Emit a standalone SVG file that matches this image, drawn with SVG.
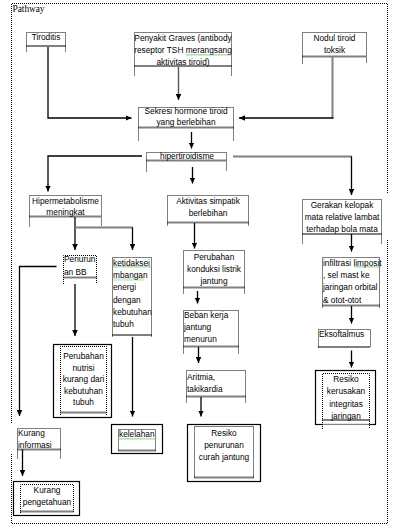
<svg xmlns="http://www.w3.org/2000/svg" width="402" height="528" viewBox="0 0 402 528">
<style>
.t{font-family:"Liberation Sans",Arial,sans-serif;font-size:8.3px;fill:#000}
.c{text-anchor:middle}
.pw{font-family:"Liberation Serif","Times New Roman",serif;font-size:9.3px;fill:#000}
.bf{fill:#fff;stroke:none}
.bd{fill:none;stroke:#000;stroke-width:1;stroke-dasharray:1 1}
.bt{fill:none;stroke:#000;stroke-width:2;stroke-dasharray:1 1}
.so{fill:#fff;stroke:#000;stroke-width:1.2}
.ln{fill:none;stroke:#000;stroke-width:1.3}
.gr{fill:none;stroke:#808080;stroke-width:2}
.dg{fill:none;stroke:#555;stroke-width:1.4}
.fr{fill:none;stroke:#000;stroke-width:1;stroke-dasharray:1 1}
</style>
<defs>
<marker id="ah" markerUnits="userSpaceOnUse" markerWidth="6" markerHeight="6" refX="6" refY="3" orient="auto">
<path d="M0,0.2 L6,3 L0,5.8 Z" fill="#000"/>
</marker>
<pattern id="sq" width="2" height="2" patternUnits="userSpaceOnUse">
<path d="M0,1.6 L1,0.4 L2,1.6" stroke="#22a022" stroke-width="0.6" fill="none"/>
</pattern>
</defs>
<rect width="402" height="528" fill="#fff"/>
<g id="frame">
<path class="fr" d="M11.5,423 V3.5 H387.5 V193 M387.5,240 V523.5 H11.5 V453"/>
<text class="pw" x="12.5" y="12">Pathway</text>
</g>
<g id="tiroditis">
<rect class="bf" x="26.5" y="32.5" width="39" height="19"/>
<path class="bd" d="M26.5,51.5 V32.5 H65.5 V51.5"/><path class="bt" d="M26.5,46 H65.5"/>
<text class="t c" x="46" y="40.3">Tiroditis</text>
</g>
<g id="graves">
<rect class="bf" x="134.5" y="32.5" width="97" height="43"/>
<path class="bd" d="M134.5,75.5 V32.5 H231.5 V75.5"/><path class="bt" d="M134.5,66 H231.5"/>
<text class="t c" x="183" y="41.3">Penyakit Graves (antibody</text>
<text class="t c" x="183" y="53">reseptor TSH merangsang</text>
<text class="t c" x="183" y="64.7">aktivitas tiroid)</text>
</g>
<g id="nodul">
<rect class="bf" x="302.5" y="32.5" width="64" height="31"/>
<path class="bd" d="M302.5,63.5 V32.5 H366.5 V63.5"/><path class="bt" d="M302.5,56.5 H366.5"/>
<text class="t c" x="334.5" y="41">Nodul tiroid</text>
<text class="t c" x="334.5" y="53.3">toksik</text>
</g>
<g id="sekresi">
<rect class="bf" x="138.5" y="107.5" width="95" height="33"/>
<path class="bd" d="M138.5,140.5 V107.5 H233.5 V140.5"/><path class="bt" d="M138.5,127.5 H233.5"/>
<text class="t c" x="186" y="113.7">Sekresi hormone tiroid</text>
<text class="t c" x="186" y="125.3">yang berlebihan</text>
</g>
<g id="hipertiroidisme">
<rect class="bf" x="146.5" y="152.5" width="80" height="19"/>
<path class="bd" d="M146.5,171.5 V152.5 H226.5 V171.5"/><path class="bt" d="M146.5,160.5 H226.5"/>
<text class="t c" x="187" y="159.3">hipertiroidisme</text>
</g>
<g id="hipermetabolisme">
<rect class="bf" x="29.5" y="195.5" width="72" height="31"/>
<path class="bd" d="M29.5,226.5 V195.5 H101.5 V226.5"/><path class="bt" d="M29.5,216.5 H101.5"/>
<text class="t c" x="65.5" y="203.5">Hipermetabolisme</text>
<text class="t c" x="65.5" y="215">meningkat</text>
</g>
<g id="aktivitas">
<rect class="bf" x="167.5" y="195.5" width="81" height="30"/>
<path class="bd" d="M167.5,225.5 V195.5 H248.5 V225.5"/><path class="bt" d="M167.5,222.5 H248.5"/>
<text class="t c" x="208" y="203.5">Aktivitas simpatik</text>
<text class="t c" x="208" y="215.5">berlebihan</text>
</g>
<g id="gerakan">
<rect class="bf" x="302.5" y="199.5" width="79" height="44"/>
<path class="bd" d="M302.5,243.5 V199.5 H381.5 V243.5"/><path class="bt" d="M302.5,234 H381.5"/>
<text class="t c" x="342" y="207.5">Gerakan kelopak</text>
<text class="t c" x="342" y="219.5">mata relative lambat</text>
<text class="t c" x="342" y="231.5">terhadap bola mata</text>
</g>
<g id="penurunan-bb">
<rect class="bf" x="63.5" y="255.5" width="33" height="28.5"/>
<path class="bd" d="M63.5,284 V255.5 H96.5 V284"/><path class="bt" d="M63.5,277.5 H96.5"/>
<text class="t" x="64" y="262.3">Penurun</text>
<text class="t" x="64" y="274.5">an BB</text>
</g>
<g id="ketidakseimbangan">
<rect class="bf" x="112.5" y="257.5" width="39" height="79"/>
<path class="bd" d="M112.5,336.5 V257.5 H151.5 V336.5"/><path class="bt" d="M112.5,335 H151.5"/>
<text class="t" x="113" y="265.5">ketidaksei</text>
<text class="t" x="113" y="278">mbangan</text>
<text class="t" x="113" y="290.3">energi</text>
<text class="t" x="113" y="302.6">dengan</text>
<text class="t" x="113" y="314.9">kebutuhan</text>
<text class="t" x="113" y="327.2">tubuh</text>
</g>
<g id="perubahan-konduksi">
<rect class="bf" x="183.5" y="250.5" width="61" height="43"/>
<path class="bd" d="M183.5,293.5 V250.5 H244.5 V293.5"/><path class="bt" d="M183.5,287.5 H244.5"/>
<text class="t c" x="214" y="260.3">Perubahan</text>
<text class="t c" x="214" y="272.3">konduksi listrik</text>
<text class="t c" x="214" y="284.3">jantung</text>
</g>
<g id="infiltrasi">
<rect class="bf" x="322.5" y="257.5" width="57" height="50"/>
<path class="bd" d="M322.5,307.5 V257.5 H379.5 V307.5"/><path class="bt" d="M322.5,305.5 H379.5"/>
<text class="t" x="323" y="265.5">infiltrasi limposit</text>
<text class="t" x="323" y="278">, sel mast ke</text>
<text class="t" x="323" y="290.3">jaringan orbital</text>
<text class="t" x="323" y="302.6">&amp; otot-otot</text>
</g>
<g id="eksoftalmus">
<rect class="bf" x="318.5" y="329.5" width="52" height="18"/>
<path class="bd" d="M318.5,347.5 V329.5 H370.5 V347.5"/><path class="bt" d="M318.5,347 H370.5"/>
<text class="t" x="319" y="337">Eksoftalmus</text>
</g>
<g id="beban-kerja">
<rect class="bf" x="183.5" y="310.5" width="55" height="43"/>
<path class="bd" d="M183.5,353.5 V310.5 H238.5 V353.5"/><path class="bt" d="M183.5,346.5 H238.5"/>
<text class="t" x="184" y="318">Beban kerja</text>
<text class="t" x="184" y="330.3">jantung</text>
<text class="t" x="184" y="342.3">menurun</text>
</g>
<g id="aritmia">
<rect class="bf" x="186.5" y="370.5" width="59" height="32"/>
<path class="bd" d="M186.5,402.5 V370.5 H245.5 V402.5"/><path class="bt" d="M186.5,396.5 H245.5"/>
<text class="t" x="187" y="379.7">Aritmia,</text>
<text class="t" x="187" y="391.5">takikardia</text>
</g>
<g id="kurang-informasi">
<rect class="bf" x="17.5" y="428.5" width="43" height="30"/>
<path class="bd" d="M17.5,458.5 V428.5 H60.5 V458.5"/><path class="bt" d="M17.5,449.5 H60.5"/>
<text class="t" x="18" y="436.3">Kurang</text>
<text class="t" x="18" y="448.3">informasi</text>
</g>
<g id="perubahan-nutrisi">
<rect class="so" x="53.5" y="344.5" width="58" height="73"/>
<path class="bd" d="M60.5,415 V346.5 H106.5 V415"/><path class="bt" d="M60.5,412.5 H106.5"/>
<text class="t c" x="83.5" y="359">Perubahan</text>
<text class="t c" x="83.5" y="370.6">nutrisi</text>
<text class="t c" x="83.5" y="382.2">kurang dari</text>
<text class="t c" x="83.5" y="393.8">kebutuhan</text>
<text class="t c" x="83.5" y="405.4">tubuh</text>
</g>
<g id="kelelahan">
<rect class="so" x="111.5" y="424.5" width="51" height="29"/>
<path class="bd" d="M118.5,450.5 V429.5 H155.5 V450.5"/><path class="bt" d="M118.5,450.5 H155.5"/>
<text class="t" x="119" y="437.3">kelelahan</text>
</g>
<g id="resiko-penurunan">
<rect class="so" x="187.5" y="424.5" width="73" height="57"/>
<path class="bd" d="M194.5,477.5 V426.5 H253.5 V477.5"/><path class="bt" d="M194.5,477.5 H253.5"/>
<text class="t c" x="224" y="435.7">Resiko</text>
<text class="t c" x="224" y="448">penurunan</text>
<text class="t c" x="224" y="460.3">curah jantung</text>
</g>
<g id="resiko-kerusakan">
<rect class="so" x="315.5" y="370.5" width="60" height="54"/>
<rect class="bf" x="322.5" y="424.5" width="47" height="4.5"/>
<path class="bd" d="M322.5,429 V373.5 H369.5 V429"/><path class="bt" d="M322.5,420 H369.5"/>
<text class="t c" x="346" y="382">Resiko</text>
<text class="t c" x="346" y="394.3">kerusakan</text>
<text class="t c" x="346" y="406.6">integritas</text>
<text class="t c" x="346" y="418.9">jaringan</text>
</g>
<g id="kurang-pengetahuan">
<rect class="so" x="13.5" y="481.5" width="66" height="34"/>
<path class="bd" d="M20.5,513 V484.5 H73.5 V513"/><path class="bt" d="M20.5,511.5 H73.5"/>
<text class="t c" x="47" y="493">Kurang</text>
<text class="t c" x="47" y="505.3">pengetahuan</text>
</g>
<g id="spelling-marks">
<rect x="186" y="54" width="46" height="2" fill="url(#sq)"/>
<rect x="354" y="266" width="27" height="2" fill="url(#sq)"/>
<rect x="113" y="266" width="38" height="2" fill="url(#sq)"/>
<rect x="113" y="278.5" width="31" height="2" fill="url(#sq)"/>
<rect x="119" y="438" width="36" height="2" fill="url(#sq)"/>
</g>
<g id="connectors">
<path class="ln" d="M48,47 V118 H131.5" marker-end="url(#ah)"/>
<path class="dg" d="M178.5,67 V100" marker-end="url(#ah)"/>
<path class="gr" d="M332.5,57 V118"/>
<path class="ln" d="M333.5,118 H239" marker-end="url(#ah)"/>
<path class="ln" d="M191.5,132 V148.5" marker-end="url(#ah)"/>
<path class="ln" d="M142,156 H48 V191.5" marker-end="url(#ah)"/>
<path class="gr" d="M233,156.5 H352"/>
<path class="ln" d="M351.5,156.5 V195" marker-end="url(#ah)"/>
<path class="ln" d="M192.5,167 V183.5" marker-end="url(#ah)"/>
<path class="ln" d="M75,217 V250" marker-end="url(#ah)"/>
<path class="gr" d="M75,227.5 H133"/>
<path class="ln" d="M132.5,227.5 V250" marker-end="url(#ah)"/>
<path class="ln" d="M56.5,266.5 H19.5 V416" marker-end="url(#ah)"/>
<path class="ln" d="M75,284 V336" marker-end="url(#ah)"/>
<path class="ln" d="M132.5,337 V416.5" marker-end="url(#ah)"/>
<path class="ln" d="M194.5,223 V248.5" marker-end="url(#ah)"/>
<path class="ln" d="M197.5,291 V303.5" marker-end="url(#ah)"/>
<path class="ln" d="M198.5,347 V363" marker-end="url(#ah)"/>
<path class="ln" d="M201,397 V416.5" marker-end="url(#ah)"/>
<path class="ln" d="M351.5,234 V251.5" marker-end="url(#ah)"/>
<path class="ln" d="M351.5,306 V323.5" marker-end="url(#ah)"/>
<path class="ln" d="M351.5,350.5 V367.5" marker-end="url(#ah)"/>
<path class="ln" d="M22.5,449.5 V476" marker-end="url(#ah)"/>
</g>
</svg>
